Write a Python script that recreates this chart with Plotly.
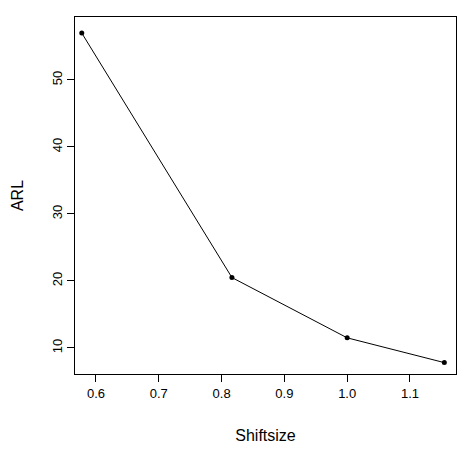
import plotly.graph_objects as go

shiftsize = [0.5774, 0.8165, 1.0, 1.1547]
arl = [57.0, 20.5, 11.5, 7.8]

fig = go.Figure(go.Scatter(
    x=shiftsize, y=arl, mode='lines+markers',
    line=dict(color='black', width=1),
    marker=dict(color='black', size=5),
))
axis_common = dict(
    showgrid=False, zeroline=False, showline=True, mirror=True,
    linecolor='black', linewidth=1, ticks='outside', ticklen=7,
    tickcolor='black', tickfont=dict(family='Liberation Sans', size=13, color='black'),
)
fig.update_xaxes(range=[0.5666, 1.1733], tickvals=[0.6, 0.7, 0.8, 0.9, 1.0, 1.1],
                 ticktext=['0.6', '0.7', '0.8', '0.9', '1.0', '1.1'],
                 title=dict(text='Shiftsize', standoff=30), **axis_common)
fig.update_yaxes(range=[6.1, 59.4], tickvals=[10, 20, 30, 40, 50], tickangle=-90,
                 title=dict(text='ARL', standoff=22), **axis_common)
fig.update_layout(
    width=474, height=460,
    margin=dict(l=67, r=26, t=9, b=94),
    paper_bgcolor='white', plot_bgcolor='white',
    font=dict(family='Liberation Sans', size=13, color='black'),
    showlegend=False,
)
fig.write_html('out.html')
